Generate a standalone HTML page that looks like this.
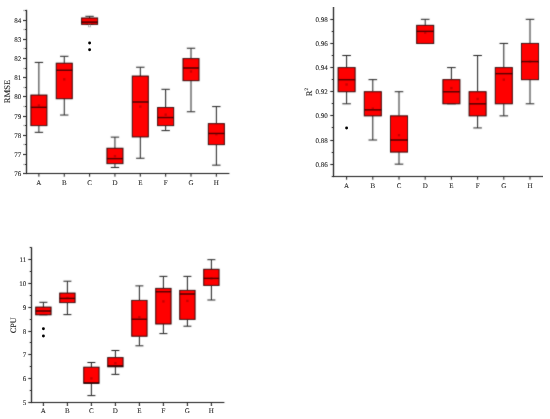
<!DOCTYPE html>
<html><head><meta charset="utf-8"><title>Box plots</title>
<style>
html,body{margin:0;padding:0;background:#fff;}
body{width:550px;height:419px;overflow:hidden;}
svg{display:block;font-family:"Liberation Serif","Times New Roman",serif;text-rendering:geometricPrecision;}
</style></head>
<body>
<svg width="550" height="419" viewBox="0 0 550 419">
<defs><filter id="b" x="0" y="0" width="100%" height="100%"><feConvolveMatrix order="3" kernelMatrix="1 2 1 2 20 2 1 2 1" edgeMode="duplicate" preserveAlpha="false"/></filter></defs>
<rect width="550" height="419" fill="#fff"/>
<g filter="url(#b)">
<line x1="26.50" y1="9.80" x2="26.50" y2="174.10" stroke="#1a1a1a" stroke-width="1.2"/>
<line x1="25.90" y1="173.50" x2="229.40" y2="173.50" stroke="#1a1a1a" stroke-width="1.2"/>
<line x1="23.30" y1="173.50" x2="26.50" y2="173.50" stroke="#1a1a1a" stroke-width="1.0"/>
<line x1="23.30" y1="154.50" x2="26.50" y2="154.50" stroke="#1a1a1a" stroke-width="1.0"/>
<line x1="23.30" y1="135.50" x2="26.50" y2="135.50" stroke="#1a1a1a" stroke-width="1.0"/>
<line x1="23.30" y1="116.50" x2="26.50" y2="116.50" stroke="#1a1a1a" stroke-width="1.0"/>
<line x1="23.30" y1="96.50" x2="26.50" y2="96.50" stroke="#1a1a1a" stroke-width="1.0"/>
<line x1="23.30" y1="77.50" x2="26.50" y2="77.50" stroke="#1a1a1a" stroke-width="1.0"/>
<line x1="23.30" y1="58.50" x2="26.50" y2="58.50" stroke="#1a1a1a" stroke-width="1.0"/>
<line x1="23.30" y1="39.50" x2="26.50" y2="39.50" stroke="#1a1a1a" stroke-width="1.0"/>
<line x1="23.30" y1="20.50" x2="26.50" y2="20.50" stroke="#1a1a1a" stroke-width="1.0"/>
<line x1="24.70" y1="164.50" x2="26.50" y2="164.50" stroke="#1a1a1a" stroke-width="1.0"/>
<line x1="24.70" y1="144.50" x2="26.50" y2="144.50" stroke="#1a1a1a" stroke-width="1.0"/>
<line x1="24.70" y1="125.50" x2="26.50" y2="125.50" stroke="#1a1a1a" stroke-width="1.0"/>
<line x1="24.70" y1="106.50" x2="26.50" y2="106.50" stroke="#1a1a1a" stroke-width="1.0"/>
<line x1="24.70" y1="87.50" x2="26.50" y2="87.50" stroke="#1a1a1a" stroke-width="1.0"/>
<line x1="24.70" y1="68.50" x2="26.50" y2="68.50" stroke="#1a1a1a" stroke-width="1.0"/>
<line x1="24.70" y1="48.50" x2="26.50" y2="48.50" stroke="#1a1a1a" stroke-width="1.0"/>
<line x1="24.70" y1="29.50" x2="26.50" y2="29.50" stroke="#1a1a1a" stroke-width="1.0"/>
<line x1="24.70" y1="10.50" x2="26.50" y2="10.50" stroke="#1a1a1a" stroke-width="1.0"/>
<line x1="38.90" y1="173.50" x2="38.90" y2="176.70" stroke="#1a1a1a" stroke-width="1.0"/>
<line x1="64.25" y1="173.50" x2="64.25" y2="176.70" stroke="#1a1a1a" stroke-width="1.0"/>
<line x1="89.60" y1="173.50" x2="89.60" y2="176.70" stroke="#1a1a1a" stroke-width="1.0"/>
<line x1="114.95" y1="173.50" x2="114.95" y2="176.70" stroke="#1a1a1a" stroke-width="1.0"/>
<line x1="140.30" y1="173.50" x2="140.30" y2="176.70" stroke="#1a1a1a" stroke-width="1.0"/>
<line x1="165.65" y1="173.50" x2="165.65" y2="176.70" stroke="#1a1a1a" stroke-width="1.0"/>
<line x1="191.00" y1="173.50" x2="191.00" y2="176.70" stroke="#1a1a1a" stroke-width="1.0"/>
<line x1="216.35" y1="173.50" x2="216.35" y2="176.70" stroke="#1a1a1a" stroke-width="1.0"/>
<line x1="38.90" y1="62.43" x2="38.90" y2="95.07" stroke="#222222" stroke-width="1.0"/>
<line x1="38.90" y1="125.60" x2="38.90" y2="132.32" stroke="#222222" stroke-width="1.0"/>
<line x1="34.70" y1="62.43" x2="43.10" y2="62.43" stroke="#222222" stroke-width="1.0"/>
<line x1="34.70" y1="132.32" x2="43.10" y2="132.32" stroke="#222222" stroke-width="1.0"/>
<rect x="30.90" y="95.07" width="16.00" height="30.53" fill="#ff0000" stroke="#1a0808" stroke-width="1.0"/>
<line x1="30.90" y1="107.36" x2="46.90" y2="107.36" stroke="#2a0000" stroke-width="1.4"/>
<rect x="37.70" y="104.24" width="2.4" height="2.4" fill="#700000" opacity="0.4"/>
<line x1="64.25" y1="56.29" x2="64.25" y2="63.20" stroke="#222222" stroke-width="1.0"/>
<line x1="64.25" y1="98.72" x2="64.25" y2="115.04" stroke="#222222" stroke-width="1.0"/>
<line x1="60.05" y1="56.29" x2="68.45" y2="56.29" stroke="#222222" stroke-width="1.0"/>
<line x1="60.05" y1="115.04" x2="68.45" y2="115.04" stroke="#222222" stroke-width="1.0"/>
<rect x="56.25" y="63.20" width="16.00" height="35.52" fill="#ff0000" stroke="#1a0808" stroke-width="1.0"/>
<line x1="56.25" y1="70.30" x2="72.25" y2="70.30" stroke="#2a0000" stroke-width="1.4"/>
<rect x="63.05" y="78.13" width="2.4" height="2.4" fill="#700000" opacity="0.4"/>
<line x1="89.60" y1="16.29" x2="89.60" y2="18.00" stroke="#222222" stroke-width="1.0"/>
<line x1="89.60" y1="24.30" x2="89.60" y2="24.30" stroke="#222222" stroke-width="1.0"/>
<line x1="85.40" y1="16.29" x2="93.80" y2="16.29" stroke="#222222" stroke-width="1.0"/>
<line x1="85.40" y1="24.30" x2="93.80" y2="24.30" stroke="#222222" stroke-width="1.0"/>
<rect x="81.60" y="18.00" width="16.00" height="6.30" fill="#ff0000" stroke="#1a0808" stroke-width="1.0"/>
<line x1="81.60" y1="22.11" x2="97.60" y2="22.11" stroke="#2a0000" stroke-width="1.4"/>
<rect x="88.50" y="24.66" width="2.2" height="2.2" fill="none" stroke="#555" stroke-width="0.6" opacity="0.6"/>
<line x1="114.95" y1="137.12" x2="114.95" y2="148.26" stroke="#222222" stroke-width="1.0"/>
<line x1="114.95" y1="163.62" x2="114.95" y2="167.46" stroke="#222222" stroke-width="1.0"/>
<line x1="110.75" y1="137.12" x2="119.15" y2="137.12" stroke="#222222" stroke-width="1.0"/>
<line x1="110.75" y1="167.46" x2="119.15" y2="167.46" stroke="#222222" stroke-width="1.0"/>
<rect x="106.95" y="148.26" width="16.00" height="15.36" fill="#ff0000" stroke="#1a0808" stroke-width="1.0"/>
<line x1="106.95" y1="158.62" x2="122.95" y2="158.62" stroke="#2a0000" stroke-width="1.4"/>
<rect x="113.75" y="154.93" width="2.4" height="2.4" fill="#700000" opacity="0.4"/>
<line x1="140.30" y1="67.23" x2="140.30" y2="76.06" stroke="#222222" stroke-width="1.0"/>
<line x1="140.30" y1="136.93" x2="140.30" y2="158.24" stroke="#222222" stroke-width="1.0"/>
<line x1="136.10" y1="67.23" x2="144.50" y2="67.23" stroke="#222222" stroke-width="1.0"/>
<line x1="136.10" y1="158.24" x2="144.50" y2="158.24" stroke="#222222" stroke-width="1.0"/>
<rect x="132.30" y="76.06" width="16.00" height="60.86" fill="#ff0000" stroke="#1a0808" stroke-width="1.0"/>
<line x1="132.30" y1="101.98" x2="148.30" y2="101.98" stroke="#2a0000" stroke-width="1.4"/>
<rect x="139.10" y="105.39" width="2.4" height="2.4" fill="#700000" opacity="0.4"/>
<line x1="165.65" y1="89.31" x2="165.65" y2="107.55" stroke="#222222" stroke-width="1.0"/>
<line x1="165.65" y1="125.60" x2="165.65" y2="130.59" stroke="#222222" stroke-width="1.0"/>
<line x1="161.45" y1="89.31" x2="169.85" y2="89.31" stroke="#222222" stroke-width="1.0"/>
<line x1="161.45" y1="130.59" x2="169.85" y2="130.59" stroke="#222222" stroke-width="1.0"/>
<rect x="157.65" y="107.55" width="16.00" height="18.05" fill="#ff0000" stroke="#1a0808" stroke-width="1.0"/>
<line x1="157.65" y1="117.54" x2="173.65" y2="117.54" stroke="#2a0000" stroke-width="1.4"/>
<rect x="164.45" y="113.46" width="2.4" height="2.4" fill="#700000" opacity="0.4"/>
<line x1="191.00" y1="48.22" x2="191.00" y2="58.59" stroke="#222222" stroke-width="1.0"/>
<line x1="191.00" y1="80.67" x2="191.00" y2="111.78" stroke="#222222" stroke-width="1.0"/>
<line x1="186.80" y1="48.22" x2="195.20" y2="48.22" stroke="#222222" stroke-width="1.0"/>
<line x1="186.80" y1="111.78" x2="195.20" y2="111.78" stroke="#222222" stroke-width="1.0"/>
<rect x="183.00" y="58.59" width="16.00" height="22.08" fill="#ff0000" stroke="#1a0808" stroke-width="1.0"/>
<line x1="183.00" y1="68.00" x2="199.00" y2="68.00" stroke="#2a0000" stroke-width="1.4"/>
<rect x="189.80" y="70.26" width="2.4" height="2.4" fill="#700000" opacity="0.4"/>
<line x1="216.35" y1="106.59" x2="216.35" y2="123.68" stroke="#222222" stroke-width="1.0"/>
<line x1="216.35" y1="144.61" x2="216.35" y2="165.15" stroke="#222222" stroke-width="1.0"/>
<line x1="212.15" y1="106.59" x2="220.55" y2="106.59" stroke="#222222" stroke-width="1.0"/>
<line x1="212.15" y1="165.15" x2="220.55" y2="165.15" stroke="#222222" stroke-width="1.0"/>
<rect x="208.35" y="123.68" width="16.00" height="20.93" fill="#ff0000" stroke="#1a0808" stroke-width="1.0"/>
<line x1="208.35" y1="133.47" x2="224.35" y2="133.47" stroke="#2a0000" stroke-width="1.4"/>
<rect x="215.15" y="133.04" width="2.4" height="2.4" fill="#700000" opacity="0.4"/>
<line x1="333.50" y1="7.30" x2="333.50" y2="177.10" stroke="#1a1a1a" stroke-width="1.2"/>
<line x1="332.90" y1="176.50" x2="543.00" y2="176.50" stroke="#1a1a1a" stroke-width="1.2"/>
<line x1="330.30" y1="164.50" x2="333.50" y2="164.50" stroke="#1a1a1a" stroke-width="1.0"/>
<line x1="330.30" y1="140.50" x2="333.50" y2="140.50" stroke="#1a1a1a" stroke-width="1.0"/>
<line x1="330.30" y1="115.50" x2="333.50" y2="115.50" stroke="#1a1a1a" stroke-width="1.0"/>
<line x1="330.30" y1="91.50" x2="333.50" y2="91.50" stroke="#1a1a1a" stroke-width="1.0"/>
<line x1="330.30" y1="67.50" x2="333.50" y2="67.50" stroke="#1a1a1a" stroke-width="1.0"/>
<line x1="330.30" y1="43.50" x2="333.50" y2="43.50" stroke="#1a1a1a" stroke-width="1.0"/>
<line x1="330.30" y1="19.50" x2="333.50" y2="19.50" stroke="#1a1a1a" stroke-width="1.0"/>
<line x1="331.70" y1="176.50" x2="333.50" y2="176.50" stroke="#1a1a1a" stroke-width="1.0"/>
<line x1="331.70" y1="152.50" x2="333.50" y2="152.50" stroke="#1a1a1a" stroke-width="1.0"/>
<line x1="331.70" y1="127.50" x2="333.50" y2="127.50" stroke="#1a1a1a" stroke-width="1.0"/>
<line x1="331.70" y1="103.50" x2="333.50" y2="103.50" stroke="#1a1a1a" stroke-width="1.0"/>
<line x1="331.70" y1="79.50" x2="333.50" y2="79.50" stroke="#1a1a1a" stroke-width="1.0"/>
<line x1="331.70" y1="55.50" x2="333.50" y2="55.50" stroke="#1a1a1a" stroke-width="1.0"/>
<line x1="331.70" y1="31.50" x2="333.50" y2="31.50" stroke="#1a1a1a" stroke-width="1.0"/>
<line x1="331.70" y1="7.50" x2="333.50" y2="7.50" stroke="#1a1a1a" stroke-width="1.0"/>
<line x1="346.60" y1="176.50" x2="346.60" y2="179.70" stroke="#1a1a1a" stroke-width="1.0"/>
<line x1="372.80" y1="176.50" x2="372.80" y2="179.70" stroke="#1a1a1a" stroke-width="1.0"/>
<line x1="399.00" y1="176.50" x2="399.00" y2="179.70" stroke="#1a1a1a" stroke-width="1.0"/>
<line x1="425.20" y1="176.50" x2="425.20" y2="179.70" stroke="#1a1a1a" stroke-width="1.0"/>
<line x1="451.40" y1="176.50" x2="451.40" y2="179.70" stroke="#1a1a1a" stroke-width="1.0"/>
<line x1="477.60" y1="176.50" x2="477.60" y2="179.70" stroke="#1a1a1a" stroke-width="1.0"/>
<line x1="503.80" y1="176.50" x2="503.80" y2="179.70" stroke="#1a1a1a" stroke-width="1.0"/>
<line x1="530.00" y1="176.50" x2="530.00" y2="179.70" stroke="#1a1a1a" stroke-width="1.0"/>
<line x1="346.60" y1="55.52" x2="346.60" y2="67.59" stroke="#222222" stroke-width="1.0"/>
<line x1="346.60" y1="91.73" x2="346.60" y2="103.80" stroke="#222222" stroke-width="1.0"/>
<line x1="342.30" y1="55.52" x2="350.90" y2="55.52" stroke="#222222" stroke-width="1.0"/>
<line x1="342.30" y1="103.80" x2="350.90" y2="103.80" stroke="#222222" stroke-width="1.0"/>
<rect x="338.10" y="67.59" width="17.00" height="24.14" fill="#ff0000" stroke="#1a0808" stroke-width="1.0"/>
<line x1="338.10" y1="79.66" x2="355.10" y2="79.66" stroke="#2a0000" stroke-width="1.4"/>
<rect x="345.40" y="83.29" width="2.4" height="2.4" fill="#700000" opacity="0.4"/>
<line x1="372.80" y1="79.66" x2="372.80" y2="91.73" stroke="#222222" stroke-width="1.0"/>
<line x1="372.80" y1="115.87" x2="372.80" y2="140.01" stroke="#222222" stroke-width="1.0"/>
<line x1="368.50" y1="79.66" x2="377.10" y2="79.66" stroke="#222222" stroke-width="1.0"/>
<line x1="368.50" y1="140.01" x2="377.10" y2="140.01" stroke="#222222" stroke-width="1.0"/>
<rect x="364.30" y="91.73" width="17.00" height="24.14" fill="#ff0000" stroke="#1a0808" stroke-width="1.0"/>
<line x1="364.30" y1="109.83" x2="381.30" y2="109.83" stroke="#2a0000" stroke-width="1.4"/>
<rect x="371.60" y="107.43" width="2.4" height="2.4" fill="#700000" opacity="0.4"/>
<line x1="399.00" y1="91.73" x2="399.00" y2="115.87" stroke="#222222" stroke-width="1.0"/>
<line x1="399.00" y1="152.08" x2="399.00" y2="164.15" stroke="#222222" stroke-width="1.0"/>
<line x1="394.70" y1="91.73" x2="403.30" y2="91.73" stroke="#222222" stroke-width="1.0"/>
<line x1="394.70" y1="164.15" x2="403.30" y2="164.15" stroke="#222222" stroke-width="1.0"/>
<rect x="390.50" y="115.87" width="17.00" height="36.21" fill="#ff0000" stroke="#1a0808" stroke-width="1.0"/>
<line x1="390.50" y1="140.01" x2="407.50" y2="140.01" stroke="#2a0000" stroke-width="1.4"/>
<rect x="397.80" y="133.98" width="2.4" height="2.4" fill="#700000" opacity="0.4"/>
<line x1="425.20" y1="19.31" x2="425.20" y2="25.35" stroke="#222222" stroke-width="1.0"/>
<line x1="425.20" y1="43.45" x2="425.20" y2="43.45" stroke="#222222" stroke-width="1.0"/>
<line x1="420.90" y1="19.31" x2="429.50" y2="19.31" stroke="#222222" stroke-width="1.0"/>
<line x1="420.90" y1="43.45" x2="429.50" y2="43.45" stroke="#222222" stroke-width="1.0"/>
<rect x="416.70" y="25.35" width="17.00" height="18.11" fill="#ff0000" stroke="#1a0808" stroke-width="1.0"/>
<line x1="416.70" y1="31.38" x2="433.70" y2="31.38" stroke="#2a0000" stroke-width="1.4"/>
<rect x="424.00" y="31.39" width="2.4" height="2.4" fill="#700000" opacity="0.4"/>
<line x1="451.40" y1="67.59" x2="451.40" y2="79.66" stroke="#222222" stroke-width="1.0"/>
<line x1="451.40" y1="103.80" x2="451.40" y2="103.80" stroke="#222222" stroke-width="1.0"/>
<line x1="447.10" y1="67.59" x2="455.70" y2="67.59" stroke="#222222" stroke-width="1.0"/>
<line x1="447.10" y1="103.80" x2="455.70" y2="103.80" stroke="#222222" stroke-width="1.0"/>
<rect x="442.90" y="79.66" width="17.00" height="24.14" fill="#ff0000" stroke="#1a0808" stroke-width="1.0"/>
<line x1="442.90" y1="91.73" x2="459.90" y2="91.73" stroke="#2a0000" stroke-width="1.4"/>
<rect x="450.20" y="86.91" width="2.4" height="2.4" fill="#700000" opacity="0.4"/>
<line x1="477.60" y1="55.52" x2="477.60" y2="91.73" stroke="#222222" stroke-width="1.0"/>
<line x1="477.60" y1="115.87" x2="477.60" y2="127.94" stroke="#222222" stroke-width="1.0"/>
<line x1="473.30" y1="55.52" x2="481.90" y2="55.52" stroke="#222222" stroke-width="1.0"/>
<line x1="473.30" y1="127.94" x2="481.90" y2="127.94" stroke="#222222" stroke-width="1.0"/>
<rect x="469.10" y="91.73" width="17.00" height="24.14" fill="#ff0000" stroke="#1a0808" stroke-width="1.0"/>
<line x1="469.10" y1="103.80" x2="486.10" y2="103.80" stroke="#2a0000" stroke-width="1.4"/>
<rect x="476.40" y="97.77" width="2.4" height="2.4" fill="#700000" opacity="0.4"/>
<line x1="503.80" y1="43.45" x2="503.80" y2="67.59" stroke="#222222" stroke-width="1.0"/>
<line x1="503.80" y1="103.80" x2="503.80" y2="115.87" stroke="#222222" stroke-width="1.0"/>
<line x1="499.50" y1="43.45" x2="508.10" y2="43.45" stroke="#222222" stroke-width="1.0"/>
<line x1="499.50" y1="115.87" x2="508.10" y2="115.87" stroke="#222222" stroke-width="1.0"/>
<rect x="495.30" y="67.59" width="17.00" height="36.21" fill="#ff0000" stroke="#1a0808" stroke-width="1.0"/>
<line x1="495.30" y1="73.62" x2="512.30" y2="73.62" stroke="#2a0000" stroke-width="1.4"/>
<rect x="502.60" y="78.46" width="2.4" height="2.4" fill="#700000" opacity="0.4"/>
<line x1="530.00" y1="19.31" x2="530.00" y2="43.45" stroke="#222222" stroke-width="1.0"/>
<line x1="530.00" y1="79.66" x2="530.00" y2="103.80" stroke="#222222" stroke-width="1.0"/>
<line x1="525.70" y1="19.31" x2="534.30" y2="19.31" stroke="#222222" stroke-width="1.0"/>
<line x1="525.70" y1="103.80" x2="534.30" y2="103.80" stroke="#222222" stroke-width="1.0"/>
<rect x="521.50" y="43.45" width="17.00" height="36.21" fill="#ff0000" stroke="#1a0808" stroke-width="1.0"/>
<line x1="521.50" y1="61.56" x2="538.50" y2="61.56" stroke="#2a0000" stroke-width="1.4"/>
<rect x="528.80" y="60.36" width="2.4" height="2.4" fill="#700000" opacity="0.4"/>
<line x1="31.50" y1="247.20" x2="31.50" y2="403.10" stroke="#1a1a1a" stroke-width="1.2"/>
<line x1="30.90" y1="402.50" x2="224.40" y2="402.50" stroke="#1a1a1a" stroke-width="1.2"/>
<line x1="28.30" y1="402.50" x2="31.50" y2="402.50" stroke="#1a1a1a" stroke-width="1.0"/>
<line x1="28.30" y1="378.50" x2="31.50" y2="378.50" stroke="#1a1a1a" stroke-width="1.0"/>
<line x1="28.30" y1="354.50" x2="31.50" y2="354.50" stroke="#1a1a1a" stroke-width="1.0"/>
<line x1="28.30" y1="331.50" x2="31.50" y2="331.50" stroke="#1a1a1a" stroke-width="1.0"/>
<line x1="28.30" y1="307.50" x2="31.50" y2="307.50" stroke="#1a1a1a" stroke-width="1.0"/>
<line x1="28.30" y1="283.50" x2="31.50" y2="283.50" stroke="#1a1a1a" stroke-width="1.0"/>
<line x1="28.30" y1="259.50" x2="31.50" y2="259.50" stroke="#1a1a1a" stroke-width="1.0"/>
<line x1="29.70" y1="390.50" x2="31.50" y2="390.50" stroke="#1a1a1a" stroke-width="1.0"/>
<line x1="29.70" y1="366.50" x2="31.50" y2="366.50" stroke="#1a1a1a" stroke-width="1.0"/>
<line x1="29.70" y1="342.50" x2="31.50" y2="342.50" stroke="#1a1a1a" stroke-width="1.0"/>
<line x1="29.70" y1="319.50" x2="31.50" y2="319.50" stroke="#1a1a1a" stroke-width="1.0"/>
<line x1="29.70" y1="295.50" x2="31.50" y2="295.50" stroke="#1a1a1a" stroke-width="1.0"/>
<line x1="29.70" y1="271.50" x2="31.50" y2="271.50" stroke="#1a1a1a" stroke-width="1.0"/>
<line x1="29.70" y1="247.50" x2="31.50" y2="247.50" stroke="#1a1a1a" stroke-width="1.0"/>
<line x1="43.40" y1="402.50" x2="43.40" y2="405.70" stroke="#1a1a1a" stroke-width="1.0"/>
<line x1="67.40" y1="402.50" x2="67.40" y2="405.70" stroke="#1a1a1a" stroke-width="1.0"/>
<line x1="91.40" y1="402.50" x2="91.40" y2="405.70" stroke="#1a1a1a" stroke-width="1.0"/>
<line x1="115.40" y1="402.50" x2="115.40" y2="405.70" stroke="#1a1a1a" stroke-width="1.0"/>
<line x1="139.40" y1="402.50" x2="139.40" y2="405.70" stroke="#1a1a1a" stroke-width="1.0"/>
<line x1="163.40" y1="402.50" x2="163.40" y2="405.70" stroke="#1a1a1a" stroke-width="1.0"/>
<line x1="187.40" y1="402.50" x2="187.40" y2="405.70" stroke="#1a1a1a" stroke-width="1.0"/>
<line x1="211.40" y1="402.50" x2="211.40" y2="405.70" stroke="#1a1a1a" stroke-width="1.0"/>
<line x1="43.40" y1="302.29" x2="43.40" y2="307.10" stroke="#222222" stroke-width="1.0"/>
<line x1="43.40" y1="314.79" x2="43.40" y2="314.79" stroke="#222222" stroke-width="1.0"/>
<line x1="39.40" y1="302.29" x2="47.40" y2="302.29" stroke="#222222" stroke-width="1.0"/>
<line x1="39.40" y1="314.79" x2="47.40" y2="314.79" stroke="#222222" stroke-width="1.0"/>
<rect x="35.75" y="307.10" width="15.30" height="7.69" fill="#ff0000" stroke="#1a0808" stroke-width="1.0"/>
<line x1="35.75" y1="311.01" x2="51.05" y2="311.01" stroke="#2a0000" stroke-width="1.4"/>
<rect x="42.20" y="309.81" width="2.4" height="2.4" fill="#700000" opacity="0.4"/>
<line x1="67.40" y1="281.21" x2="67.40" y2="293.09" stroke="#222222" stroke-width="1.0"/>
<line x1="67.40" y1="302.60" x2="67.40" y2="314.60" stroke="#222222" stroke-width="1.0"/>
<line x1="63.40" y1="281.21" x2="71.40" y2="281.21" stroke="#222222" stroke-width="1.0"/>
<line x1="63.40" y1="314.60" x2="71.40" y2="314.60" stroke="#222222" stroke-width="1.0"/>
<rect x="59.75" y="293.09" width="15.30" height="9.50" fill="#ff0000" stroke="#1a0808" stroke-width="1.0"/>
<line x1="59.75" y1="298.41" x2="75.05" y2="298.41" stroke="#2a0000" stroke-width="1.4"/>
<rect x="66.20" y="296.80" width="2.4" height="2.4" fill="#700000" opacity="0.4"/>
<line x1="91.40" y1="362.51" x2="91.40" y2="367.20" stroke="#222222" stroke-width="1.0"/>
<line x1="91.40" y1="383.30" x2="91.40" y2="395.59" stroke="#222222" stroke-width="1.0"/>
<line x1="87.40" y1="362.51" x2="95.40" y2="362.51" stroke="#222222" stroke-width="1.0"/>
<line x1="87.40" y1="395.59" x2="95.40" y2="395.59" stroke="#222222" stroke-width="1.0"/>
<rect x="83.75" y="367.20" width="15.30" height="16.10" fill="#ff0000" stroke="#1a0808" stroke-width="1.0"/>
<line x1="83.75" y1="382.71" x2="99.05" y2="382.71" stroke="#2a0000" stroke-width="1.4"/>
<rect x="90.20" y="377.19" width="2.4" height="2.4" fill="#700000" opacity="0.4"/>
<line x1="115.40" y1="350.50" x2="115.40" y2="357.60" stroke="#222222" stroke-width="1.0"/>
<line x1="115.40" y1="366.79" x2="115.40" y2="374.39" stroke="#222222" stroke-width="1.0"/>
<line x1="111.40" y1="350.50" x2="119.40" y2="350.50" stroke="#222222" stroke-width="1.0"/>
<line x1="111.40" y1="374.39" x2="119.40" y2="374.39" stroke="#222222" stroke-width="1.0"/>
<rect x="107.75" y="357.60" width="15.30" height="9.19" fill="#ff0000" stroke="#1a0808" stroke-width="1.0"/>
<line x1="107.75" y1="365.79" x2="123.05" y2="365.79" stroke="#2a0000" stroke-width="1.4"/>
<rect x="114.20" y="362.00" width="2.4" height="2.4" fill="#700000" opacity="0.4"/>
<line x1="139.40" y1="285.90" x2="139.40" y2="300.41" stroke="#222222" stroke-width="1.0"/>
<line x1="139.40" y1="336.21" x2="139.40" y2="345.81" stroke="#222222" stroke-width="1.0"/>
<line x1="135.40" y1="285.90" x2="143.40" y2="285.90" stroke="#222222" stroke-width="1.0"/>
<line x1="135.40" y1="345.81" x2="143.40" y2="345.81" stroke="#222222" stroke-width="1.0"/>
<rect x="131.75" y="300.41" width="15.30" height="35.80" fill="#ff0000" stroke="#1a0808" stroke-width="1.0"/>
<line x1="131.75" y1="319.30" x2="147.05" y2="319.30" stroke="#2a0000" stroke-width="1.4"/>
<rect x="138.20" y="315.91" width="2.4" height="2.4" fill="#700000" opacity="0.4"/>
<line x1="163.40" y1="276.40" x2="163.40" y2="288.40" stroke="#222222" stroke-width="1.0"/>
<line x1="163.40" y1="323.99" x2="163.40" y2="333.59" stroke="#222222" stroke-width="1.0"/>
<line x1="159.40" y1="276.40" x2="167.40" y2="276.40" stroke="#222222" stroke-width="1.0"/>
<line x1="159.40" y1="333.59" x2="167.40" y2="333.59" stroke="#222222" stroke-width="1.0"/>
<rect x="155.75" y="288.40" width="15.30" height="35.59" fill="#ff0000" stroke="#1a0808" stroke-width="1.0"/>
<line x1="155.75" y1="291.69" x2="171.05" y2="291.69" stroke="#2a0000" stroke-width="1.4"/>
<rect x="162.20" y="300.21" width="2.4" height="2.4" fill="#700000" opacity="0.4"/>
<line x1="187.40" y1="276.40" x2="187.40" y2="290.40" stroke="#222222" stroke-width="1.0"/>
<line x1="187.40" y1="319.39" x2="187.40" y2="326.20" stroke="#222222" stroke-width="1.0"/>
<line x1="183.40" y1="276.40" x2="191.40" y2="276.40" stroke="#222222" stroke-width="1.0"/>
<line x1="183.40" y1="326.20" x2="191.40" y2="326.20" stroke="#222222" stroke-width="1.0"/>
<rect x="179.75" y="290.40" width="15.30" height="28.99" fill="#ff0000" stroke="#1a0808" stroke-width="1.0"/>
<line x1="179.75" y1="294.00" x2="195.05" y2="294.00" stroke="#2a0000" stroke-width="1.4"/>
<rect x="186.20" y="299.71" width="2.4" height="2.4" fill="#700000" opacity="0.4"/>
<line x1="211.40" y1="259.70" x2="211.40" y2="269.30" stroke="#222222" stroke-width="1.0"/>
<line x1="211.40" y1="285.40" x2="211.40" y2="300.00" stroke="#222222" stroke-width="1.0"/>
<line x1="207.40" y1="259.70" x2="215.40" y2="259.70" stroke="#222222" stroke-width="1.0"/>
<line x1="207.40" y1="300.00" x2="215.40" y2="300.00" stroke="#222222" stroke-width="1.0"/>
<rect x="203.75" y="269.30" width="15.30" height="16.10" fill="#ff0000" stroke="#1a0808" stroke-width="1.0"/>
<line x1="203.75" y1="278.40" x2="219.05" y2="278.40" stroke="#2a0000" stroke-width="1.4"/>
<rect x="210.20" y="277.20" width="2.4" height="2.4" fill="#700000" opacity="0.4"/>
</g>
<g>
<text x="21.30" y="175.70" font-size="7" text-anchor="end" fill="#262626" stroke="#262626" stroke-width="0.1" >76</text>
<text x="21.30" y="156.70" font-size="7" text-anchor="end" fill="#262626" stroke="#262626" stroke-width="0.1" >77</text>
<text x="21.30" y="137.70" font-size="7" text-anchor="end" fill="#262626" stroke="#262626" stroke-width="0.1" >78</text>
<text x="21.30" y="118.70" font-size="7" text-anchor="end" fill="#262626" stroke="#262626" stroke-width="0.1" >79</text>
<text x="21.30" y="98.70" font-size="7" text-anchor="end" fill="#262626" stroke="#262626" stroke-width="0.1" >80</text>
<text x="21.30" y="79.70" font-size="7" text-anchor="end" fill="#262626" stroke="#262626" stroke-width="0.1" >81</text>
<text x="21.30" y="60.70" font-size="7" text-anchor="end" fill="#262626" stroke="#262626" stroke-width="0.1" >82</text>
<text x="21.30" y="41.70" font-size="7" text-anchor="end" fill="#262626" stroke="#262626" stroke-width="0.1" >83</text>
<text x="21.30" y="22.70" font-size="7" text-anchor="end" fill="#262626" stroke="#262626" stroke-width="0.1" >84</text>
<text x="38.90" y="184.90" font-size="7" text-anchor="middle" fill="#262626" stroke="#262626" stroke-width="0.1" >A</text>
<text x="64.25" y="184.90" font-size="7" text-anchor="middle" fill="#262626" stroke="#262626" stroke-width="0.1" >B</text>
<text x="89.60" y="184.90" font-size="7" text-anchor="middle" fill="#262626" stroke="#262626" stroke-width="0.1" >C</text>
<text x="114.95" y="184.90" font-size="7" text-anchor="middle" fill="#262626" stroke="#262626" stroke-width="0.1" >D</text>
<text x="140.30" y="184.90" font-size="7" text-anchor="middle" fill="#262626" stroke="#262626" stroke-width="0.1" >E</text>
<text x="165.65" y="184.90" font-size="7" text-anchor="middle" fill="#262626" stroke="#262626" stroke-width="0.1" >F</text>
<text x="191.00" y="184.90" font-size="7" text-anchor="middle" fill="#262626" stroke="#262626" stroke-width="0.1" >G</text>
<text x="216.35" y="184.90" font-size="7" text-anchor="middle" fill="#262626" stroke="#262626" stroke-width="0.1" >H</text>
<circle cx="89.60" cy="43.04" r="1.45" fill="#000"/>
<circle cx="89.60" cy="49.76" r="1.45" fill="#000"/>
<text x="10.10" y="91.50" font-size="8.6" text-anchor="middle" fill="#262626" stroke="#262626" stroke-width="0.1" transform="rotate(-90 10.10 91.50)">RMSE</text>
<text x="327.70" y="166.70" font-size="7" text-anchor="end" fill="#262626" stroke="#262626" stroke-width="0.1" >0.86</text>
<text x="327.70" y="142.70" font-size="7" text-anchor="end" fill="#262626" stroke="#262626" stroke-width="0.1" >0.88</text>
<text x="327.70" y="117.70" font-size="7" text-anchor="end" fill="#262626" stroke="#262626" stroke-width="0.1" >0.90</text>
<text x="327.70" y="93.70" font-size="7" text-anchor="end" fill="#262626" stroke="#262626" stroke-width="0.1" >0.92</text>
<text x="327.70" y="69.70" font-size="7" text-anchor="end" fill="#262626" stroke="#262626" stroke-width="0.1" >0.94</text>
<text x="327.70" y="45.70" font-size="7" text-anchor="end" fill="#262626" stroke="#262626" stroke-width="0.1" >0.96</text>
<text x="327.70" y="21.70" font-size="7" text-anchor="end" fill="#262626" stroke="#262626" stroke-width="0.1" >0.98</text>
<text x="346.60" y="187.50" font-size="7" text-anchor="middle" fill="#262626" stroke="#262626" stroke-width="0.1" >A</text>
<text x="372.80" y="187.50" font-size="7" text-anchor="middle" fill="#262626" stroke="#262626" stroke-width="0.1" >B</text>
<text x="399.00" y="187.50" font-size="7" text-anchor="middle" fill="#262626" stroke="#262626" stroke-width="0.1" >C</text>
<text x="425.20" y="187.50" font-size="7" text-anchor="middle" fill="#262626" stroke="#262626" stroke-width="0.1" >D</text>
<text x="451.40" y="187.50" font-size="7" text-anchor="middle" fill="#262626" stroke="#262626" stroke-width="0.1" >E</text>
<text x="477.60" y="187.50" font-size="7" text-anchor="middle" fill="#262626" stroke="#262626" stroke-width="0.1" >F</text>
<text x="503.80" y="187.50" font-size="7" text-anchor="middle" fill="#262626" stroke="#262626" stroke-width="0.1" >G</text>
<text x="530.00" y="187.50" font-size="7" text-anchor="middle" fill="#262626" stroke="#262626" stroke-width="0.1" >H</text>
<circle cx="346.60" cy="127.94" r="1.45" fill="#000"/>
<text x="311.50" y="92.00" font-size="8.6" text-anchor="middle" fill="#262626" stroke="#262626" stroke-width="0.1" transform="rotate(-90 311.50 92.00)">R<tspan dy="-3.6" font-size="5">2</tspan></text>
<text x="26.30" y="404.70" font-size="7" text-anchor="end" fill="#262626" stroke="#262626" stroke-width="0.1" >5</text>
<text x="26.30" y="380.70" font-size="7" text-anchor="end" fill="#262626" stroke="#262626" stroke-width="0.1" >6</text>
<text x="26.30" y="356.70" font-size="7" text-anchor="end" fill="#262626" stroke="#262626" stroke-width="0.1" >7</text>
<text x="26.30" y="333.70" font-size="7" text-anchor="end" fill="#262626" stroke="#262626" stroke-width="0.1" >8</text>
<text x="26.30" y="309.70" font-size="7" text-anchor="end" fill="#262626" stroke="#262626" stroke-width="0.1" >9</text>
<text x="26.30" y="285.70" font-size="7" text-anchor="end" fill="#262626" stroke="#262626" stroke-width="0.1" >10</text>
<text x="26.30" y="261.70" font-size="7" text-anchor="end" fill="#262626" stroke="#262626" stroke-width="0.1" >11</text>
<text x="43.40" y="412.90" font-size="7" text-anchor="middle" fill="#262626" stroke="#262626" stroke-width="0.1" >A</text>
<text x="67.40" y="412.90" font-size="7" text-anchor="middle" fill="#262626" stroke="#262626" stroke-width="0.1" >B</text>
<text x="91.40" y="412.90" font-size="7" text-anchor="middle" fill="#262626" stroke="#262626" stroke-width="0.1" >C</text>
<text x="115.40" y="412.90" font-size="7" text-anchor="middle" fill="#262626" stroke="#262626" stroke-width="0.1" >D</text>
<text x="139.40" y="412.90" font-size="7" text-anchor="middle" fill="#262626" stroke="#262626" stroke-width="0.1" >E</text>
<text x="163.40" y="412.90" font-size="7" text-anchor="middle" fill="#262626" stroke="#262626" stroke-width="0.1" >F</text>
<text x="187.40" y="412.90" font-size="7" text-anchor="middle" fill="#262626" stroke="#262626" stroke-width="0.1" >G</text>
<text x="211.40" y="412.90" font-size="7" text-anchor="middle" fill="#262626" stroke="#262626" stroke-width="0.1" >H</text>
<circle cx="43.40" cy="328.80" r="1.45" fill="#000"/>
<circle cx="43.40" cy="335.99" r="1.45" fill="#000"/>
<text x="15.80" y="325.20" font-size="8.2" text-anchor="middle" fill="#262626" stroke="#262626" stroke-width="0.1" transform="rotate(-90 15.80 325.20)">CPU</text>
</g>
</svg>
</body></html>
